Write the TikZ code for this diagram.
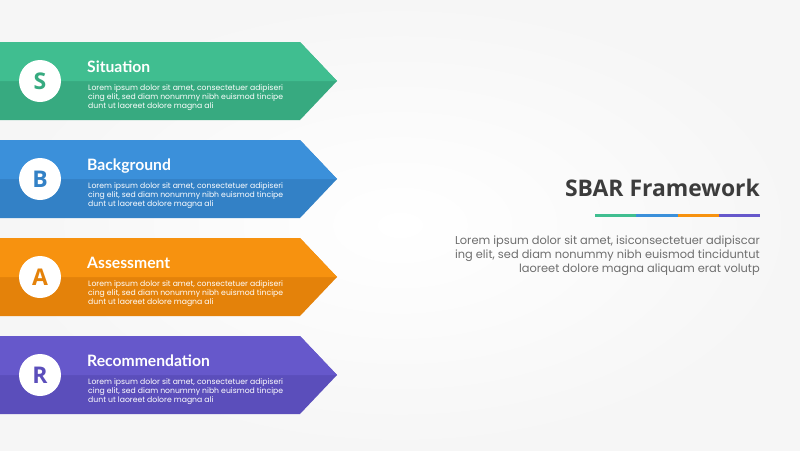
\documentclass[tikz,border=0pt]{standalone}
\usepackage{fontspec}
\setmainfont{Poppins}
\newfontfamily\titlefont{Lato}
\newfontfamily\headfont{Open Sans}
\usetikzlibrary{positioning,calc}

\definecolor{sitlight}{HTML}{40BE90}
\definecolor{sitdark}{HTML}{37AA80}
\definecolor{baklight}{HTML}{3B90DA}
\definecolor{bakdark}{HTML}{3381C6}
\definecolor{asslight}{HTML}{F7920F}
\definecolor{assdark}{HTML}{E4820A}
\definecolor{reclight}{HTML}{6658CB}
\definecolor{recdark}{HTML}{5B4EBB}
\definecolor{headgray}{HTML}{3C3C3C}
\definecolor{bodygray}{HTML}{6E6E6E}

\tikzset{
  letterdot/.style={circle, fill=white, minimum size=42pt, inner sep=0pt,
    font=\headfont\bfseries\fontsize{23}{26}\selectfont},
  bantitle/.style={anchor=base west, inner sep=0pt, text=white,
    font=\titlefont\bfseries\fontsize{15.7}{18}\selectfont},
  bantext/.style={anchor=north west, inner sep=0pt, text=white, align=left,
    font=\fontsize{7.7}{9}\selectfont},
}

\begin{document}
\begin{tikzpicture}[x=1pt,y=-1pt]
        % Background
        \useasboundingbox (0,0) rectangle (800,450);
        \shade[inner color=white, outer color=gray!7] (0,0) rectangle (800,450);

        % Banners
        \foreach \ttl/\ltr/\lite/\dark [count=\k] in {Situation/S/sitlight/sitdark,
            Background/B/baklight/bakdark, Assessment/A/asslight/assdark,
            Recommendation/R/reclight/recdark}{
          \begin{scope}[shift={(0,{42+98*(\k-1)})}]
            \fill[\dark] (0,0) -- (300,0) -- (337,39) -- (300,78) -- (0,78) -- cycle;
            \fill[\lite] (0,0) -- (300,0) -- (337,39) -- (0,39) -- cycle;
            \node[letterdot, text=\dark] (ltr\k) at (40,39) {\ltr};
            \node[bantitle] (ttl\k) at (87,30) {\ttl};
            \node[bantext] (txt\k) at (88,42) {Lorem ipsum dolor sit amet, consectetuer adipiseri\\
              cing elit, sed diam nonummy nibh euismod tincipe\\dunt ut laoreet dolore magna ali};
          \end{scope}
        }

        % Title and description
        \node[anchor=base east, inner sep=0pt, text=headgray,
          font=\headfont\bfseries\fontsize{22.9}{27}\selectfont] (head) at (760,196) {SBAR Framework};
        \coordinate (bar0) at (595,215);
        \foreach \col [count=\k] in {sitlight,baklight,asslight,reclight}{
          \draw[\col, line width=3pt] ($(bar0)+({41.25*(\k-1)},0)$) -- ++(41.25,0);
        }
        \node[anchor=north east, inner sep=0pt, text=bodygray, align=right,
          font=\fontsize{11.4}{14}\selectfont] (desc) at (760,236)
          {Lorem ipsum dolor sit amet, isiconsectetuer adipiscar\\
           ing elit, sed diam nonummy nibh euismod tinciduntut\\
           laoreet dolore magna aliquam erat volutp};
\end{tikzpicture}
\end{document}
